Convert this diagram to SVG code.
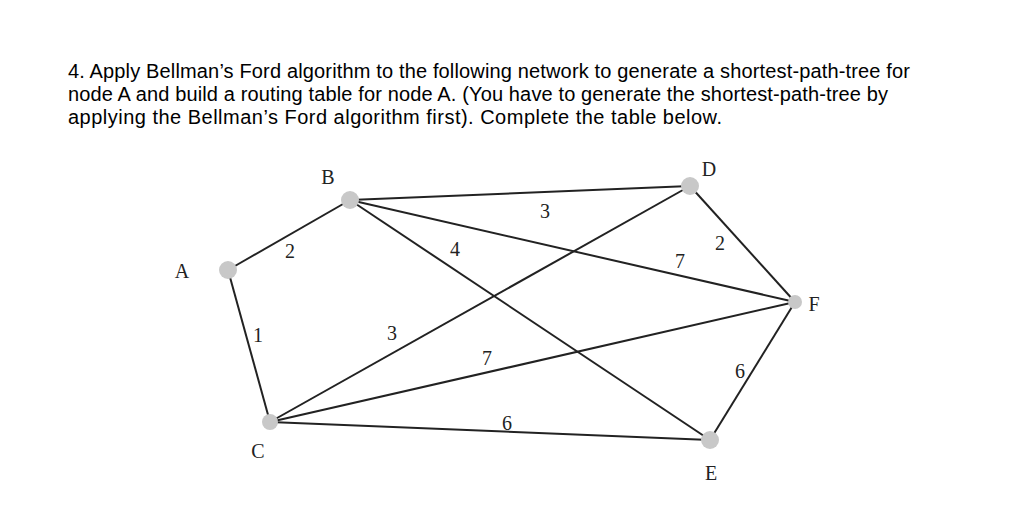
<svg xmlns="http://www.w3.org/2000/svg" width="1024" height="528" viewBox="0 0 1024 528">
<style>
.t{font-family:"Liberation Sans",Arial,sans-serif;font-size:20px;fill:#000}
.l{font-family:"Liberation Serif","Times New Roman",serif;font-size:20px;fill:#222;text-anchor:middle}
.e{stroke:#222;stroke-width:2;fill:none}
.n{fill:#c8c8c8}
</style>
<rect width="1024" height="528" fill="#fff"/>
<text class="t" x="68" y="78" textLength="842">4. Apply Bellman’s Ford algorithm to the following network to generate a shortest-path-tree for</text>
<text class="t" x="68" y="101" textLength="820">node A and build a routing table for node A. (You have to generate the shortest-path-tree by</text>
<text class="t" x="68" y="124" textLength="654">applying the Bellman’s Ford algorithm first). Complete the table below.</text>
<g id="connectors">
<line class="e" x1="228" y1="270" x2="350" y2="200"/>
<line class="e" x1="228" y1="270" x2="270" y2="422"/>
<line class="e" x1="350" y1="200" x2="690" y2="186"/>
<line class="e" x1="350" y1="200" x2="795" y2="302"/>
<line class="e" x1="350" y1="200" x2="710" y2="440"/>
<line class="e" x1="270" y1="422" x2="690" y2="186"/>
<line class="e" x1="270" y1="422" x2="795" y2="302"/>
<line class="e" x1="270" y1="422" x2="710" y2="440"/>
<line class="e" x1="690" y1="186" x2="795" y2="302"/>
<line class="e" x1="710" y1="440" x2="795" y2="302"/>
<text class="l" x="290" y="258">2</text>
<text class="l" x="258" y="342">1</text>
<text class="l" x="545" y="218">3</text>
<text class="l" x="455" y="256">4</text>
<text class="l" x="680" y="268">7</text>
<text class="l" x="720" y="250">2</text>
<text class="l" x="392" y="340">3</text>
<text class="l" x="487" y="365">7</text>
<text class="l" x="507" y="430">6</text>
<text class="l" x="740" y="378">6</text>
</g>
<g id="A"><circle class="n" cx="228" cy="270" r="9"/><text class="l" x="182" y="278">A</text></g>
<g id="B"><circle class="n" cx="350" cy="200" r="9"/><text class="l" x="328" y="184">B</text></g>
<g id="C"><circle class="n" cx="270" cy="422" r="8"/><text class="l" x="258" y="458">C</text></g>
<g id="D"><circle class="n" cx="690" cy="186" r="9"/><text class="l" x="709" y="176">D</text></g>
<g id="E"><circle class="n" cx="710" cy="440" r="9"/><text class="l" x="711" y="480">E</text></g>
<g id="F"><circle class="n" cx="795" cy="302" r="7"/><text class="l" x="814" y="311">F</text></g>
</svg>
